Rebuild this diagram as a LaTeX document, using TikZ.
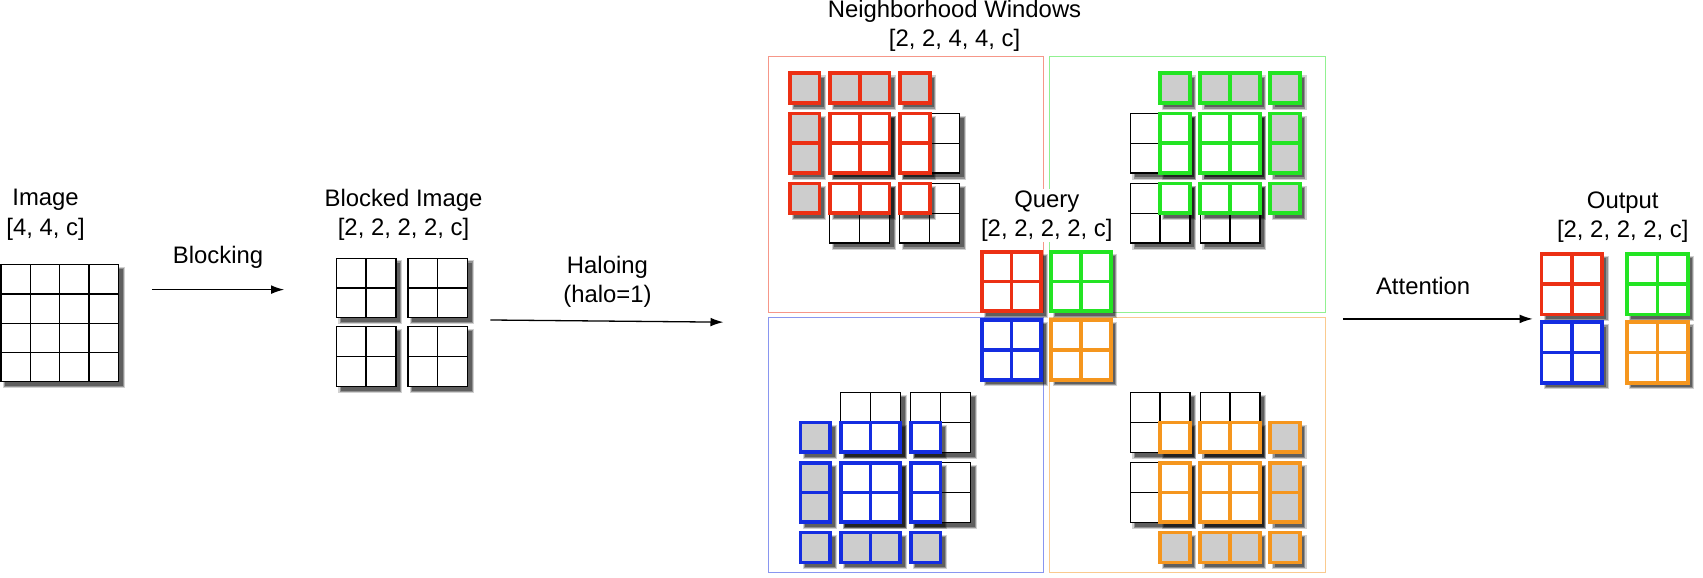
\documentclass[tikz,border=0pt]{standalone}
\usepackage{fontspec}
\setmainfont{Liberation Sans}
\usetikzlibrary{arrows.meta}
\definecolor{cred}{RGB}{236,48,20}
\definecolor{cgreen}{RGB}{35,228,35}
\definecolor{cblue}{RGB}{20,45,225}
\definecolor{corange}{RGB}{245,150,30}
\definecolor{cgray}{RGB}{205,205,205}
\tikzset{
 bk/.style={draw=black,fill=white,line width=1.2},
 lbl/.style={font=\fontsize{22}{26}\selectfont,align=center},
 arr/.style={-{Latex[length=12,width=8]},line width=1.2}
}
\newcommand\shad[4]{% x,y,w,h
 \fill[black,opacity=.18] (#1+2,#2+2) rectangle ++(#3+4,#4+4);
 \fill[black,opacity=.3] (#1+3,#2+3) rectangle ++(#3+2,#4+2);
 \fill[black,opacity=.35] (#1+4,#2+4) rectangle ++(#3,#4);
}
\newcommand\pcell[7]{%
 \pgfmathsetmacro\xa{#1+(#3+1)*27.5+floor((#3+2)/2)*9.5}%
 \pgfmathsetmacro\ya{#2+(#4+1)*27.5+floor((#4+2)/2)*9.5}%
 \shad{\xa}{\ya}{#5*27.5}{#6*27.5}%
 \filldraw[#7] (\xa,\ya) rectangle ++(#5*27.5,#6*27.5);%
 \ifnum#5=2 \draw[#7] (\xa+27.5,\ya) -- ++(0,#6*27.5);\fi
 \ifnum#6=2 \draw[#7] (\xa,\ya+27.5) -- ++(#5*27.5,0);\fi
}
\newcommand\win[5]{%
 \foreach \bx in {0,2}{\foreach \by in {0,2}{\pcell{#1}{#2}{\bx}{\by}{2}{2}{bk}}}%
 \foreach \cx/\cw in {#3}{\foreach \cy/\ch in {#4}{%
   \pgfmathtruncatemacro\myout{or(or(\cx<0,\cx>3),or(\cy<0,\cy>3))}%
   \ifnum\myout=1 \def\myfc{cgray}\else\def\myfc{white}\fi
   \pcell{#1}{#2}{\cx}{\cy}{\cw}{\ch}{draw=#5,line width=3.5,fill=\myfc}}}%
}
\newcommand\qblk[4]{% x,y,color,size
 \shad{#1}{#2}{#4}{#4}
 \filldraw[draw=#3,fill=white,line width=3.5] (#1,#2) rectangle ++(#4,#4);
 \draw[draw=#3,line width=3.5] (#1+#4/2,#2) -- ++(0,#4) (#1,#2+#4/2) -- ++(#4,0);
}
\begin{document}
\begin{tikzpicture}[x=1pt,y=-1pt]
\useasboundingbox (0,0) rectangle (1570,532);
% image
\shad{1}{244}{108}{108}
\filldraw[bk] (1,244) rectangle (109,352);
\foreach \i in {1,2,3}{\draw[bk] (1+27*\i,244) -- ++(0,108) (1,244+27*\i) -- ++(108,0);}
\node[lbl] (img) at (42,198) {Image\\[1pt][4, 4, c]};
% blocked
\foreach \x in {310,376}{\foreach \y in {238,301}{
 \shad{\x}{\y}{55}{55}
 \filldraw[bk] (\x,\y) rectangle ++(55,55);
 \draw[bk] (\x+27.5,\y) -- ++(0,55) (\x,\y+27.5) -- ++(55,0);}}
\node[lbl] (blk) at (372,198) {Blocked Image\\[1pt][2, 2, 2, 2, c]};
% arrows
\coordinate (a1) at (140,267); \coordinate (a2) at (262,267);
\draw[arr] (a1) -- (a2);
\node[lbl] (tb) at (201,237) {Blocking};
\coordinate (h1) at (452,295); \coordinate (h2) at (667,297);
\draw[arr] (h1) -- (h2);
\node[lbl] (th) at (560,260) {Haloing\\[1pt](halo=1)};
\coordinate (t1) at (1238,294); \coordinate (t2) at (1413,294);
\draw[arr] (t1) -- (t2);
\node[lbl] (ta) at (1312,264) {Attention};
% windows
\draw[cred!50,line width=.8] (708,52) rectangle (962,288);
\draw[cgreen!50,line width=.8] (967,52) rectangle (1222,288);
\draw[cblue!50,line width=.8] (708,293) rectangle (962,528);
\draw[corange!50,line width=.8] (967,293) rectangle (1222,528);
\win{728}{67.6}{-1/1,0/2,2/1}{-1/1,0/2,2/1}{cred}
\win{1005}{67.6}{1/1,2/2,4/1}{-1/1,0/2,2/1}{cgreen}
\win{738}{325}{-1/1,0/2,2/1}{1/1,2/2,4/1}{cblue}
\win{1005}{325}{1/1,2/2,4/1}{1/1,2/2,4/1}{corange}
\node[lbl] (nw) at (880,24) {Neighborhood Windows\\[1pt][2, 2, 4, 4, c]};
% query
\node[lbl,fill=white,inner sep=1pt] (q) at (965,199) {Query\\[1pt][2, 2, 2, 2, c]};
\qblk{905}{232}{cred}{55}
\qblk{969}{232}{cgreen}{55}
\qblk{905}{295}{cblue}{55}
\qblk{969}{295}{corange}{55}
% output
\node[lbl] (out) at (1496,200) {Output\\[1pt][2, 2, 2, 2, c]};
\qblk{1421}{234}{cred}{56}
\qblk{1500}{234}{cgreen}{56}
\qblk{1421}{297}{cblue}{56}
\qblk{1500}{297}{corange}{56}
\end{tikzpicture}
\end{document}
